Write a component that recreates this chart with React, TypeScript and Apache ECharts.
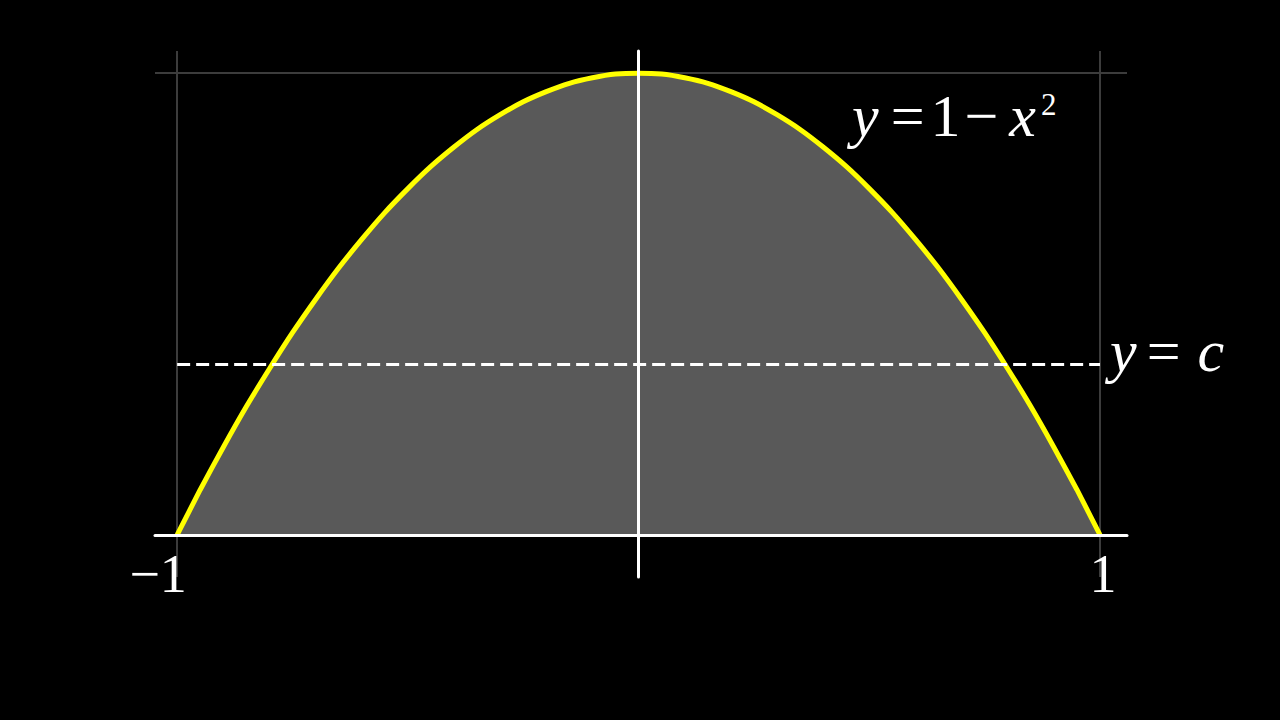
import { useEffect, useRef } from 'react';
import * as echarts from 'echarts';

// curve y = 1 - x^2, every 0.05
const xValues = [
    -1, -0.95, -0.9, -0.85, -0.8, -0.75, -0.7, -0.65, -0.6, -0.55, -0.5, -0.45, -0.4, -0.35, -0.3, -0.25, -0.2, -0.15, -0.1, -0.05,
    0, 0.05, 0.1, 0.15, 0.2, 0.25, 0.3, 0.35, 0.4, 0.45, 0.5, 0.55, 0.6, 0.65, 0.7, 0.75, 0.8, 0.85, 0.9, 0.95, 1,
];
const yValues = [
    0, 0.098, 0.19, 0.278, 0.36, 0.438, 0.51, 0.578, 0.64, 0.698, 0.75, 0.798, 0.84, 0.878, 0.91, 0.938, 0.96, 0.978, 0.99, 0.998,
    1, 0.998, 0.99, 0.978, 0.96, 0.938, 0.91, 0.878, 0.84, 0.798, 0.75, 0.698, 0.64, 0.578, 0.51, 0.438, 0.36, 0.278, 0.19, 0.098, 0,
];
const cLevel = 0.37;
const xTickValues = [-1, 1];
const xTickLabels = ['−1', '1'];
const guideXs = [-1, 1];
const guideYs = [1];

const SERIF = '"Liberation Serif", "DejaVu Serif", serif';

export default function App() {
    const ref = useRef<HTMLDivElement | null>(null);

    useEffect(() => {
        if (!ref.current) return;
        const chart = echarts.init(ref.current, null, { renderer: 'svg' });

        const guides = [
            ...guideXs.map(v => ({ xAxis: v })),
            ...guideYs.map(v => ({ yAxis: v })),
        ];
        const ital = (size: number) => ({ fontStyle: 'italic', fontSize: size, fontFamily: SERIF, fill: '#fff' });
        const up = (size: number, pad: number[]) => ({ fontSize: size, fontFamily: SERIF, fill: '#fff', padding: pad });

        chart.setOption({
            animation: false,
            backgroundColor: '#000',
            grid: { left: 155, right: 153, top: 51, bottom: 143 },
            xAxis: {
                type: 'value',
                min: -1.048,
                max: 1.0585,
                z: 5,
                axisLine: { show: true, onZero: true, lineStyle: { color: '#fff', width: 3 } },
                axisTick: { show: false },
                splitLine: { show: false },
                axisLabel: {
                    customValues: xTickValues,
                    margin: -30,
                    color: '#fff',
                    fontFamily: SERIF,
                    fontSize: 54,
                    formatter: (v: number) => {
                        const i = xTickValues.indexOf(v);
                        const t = i >= 0 ? xTickLabels[i] : '';
                        return v < 0 ? t + '{s|}' : '{p|}' + t;
                    },
                    rich: { s: { width: 38 }, p: { width: 6 } },
                },
            },
            yAxis: {
                type: 'value',
                min: -0.091,
                max: 1.048,
                z: 5,
                axisLine: { show: true, onZero: true, lineStyle: { color: '#fff', width: 3 } },
                axisTick: { show: false },
                axisLabel: { show: false },
                splitLine: { show: false },
            },
            series: [
                {
                    type: 'line',
                    data: xValues.map((x, i) => [x, yValues[i]]),
                    smooth: 0.2,
                    symbol: 'none',
                    z: 2,
                    lineStyle: { color: '#ffff00', width: 5 },
                    areaStyle: { color: '#595959', opacity: 1 },
                    markLine: {
                        silent: true,
                        symbol: 'none',
                        label: { show: false },
                        z: 1,
                        lineStyle: { color: '#3c3c3c', width: 2, type: 'solid' },
                        data: guides,
                    },
                },
                {
                    type: 'line',
                    data: [],
                    z: 3,
                    markLine: {
                        silent: true,
                        symbol: 'none',
                        label: { show: false },
                        lineStyle: { color: '#fff', width: 3, type: [13, 6] },
                        data: [[{ coord: [-1, cLevel] }, { coord: [1, cLevel] }]],
                    },
                },
            ],
            graphic: [
                {
                    type: 'text',
                    left: 852,
                    top: 86,
                    z: 10,
                    style: {
                        text: '{i|y}{e|=}{o|1}{m|−}{i|x}',
                        fill: '#fff',
                        font: `60px ${SERIF}`,
                        rich: {
                            i: ital(60),
                            e: up(60, [0, 6, 0, 12]),
                            o: up(60, [0, 0, 0, 0]),
                            m: up(60, [0, 11, 0, 4]),
                        },
                    },
                },
                {
                    type: 'text',
                    left: 1041,
                    top: 89,
                    z: 10,
                    style: { text: '2', fill: '#fff', font: `31px ${SERIF}` },
                },
                {
                    type: 'text',
                    left: 1110,
                    top: 321,
                    z: 10,
                    style: {
                        text: '{i|y}{e|=}{i|c}',
                        fill: '#fff',
                        font: `60px ${SERIF}`,
                        rich: {
                            i: ital(60),
                            e: up(60, [0, 17, 0, 10]),
                        },
                    },
                },
            ],
        });

        return () => chart.dispose();
    }, []);

    return (
        <div
            ref={ref}
            style={{ position: 'fixed', left: 0, top: 0, width: 1280, height: 720, background: '#000' }}
        />
    );
}
